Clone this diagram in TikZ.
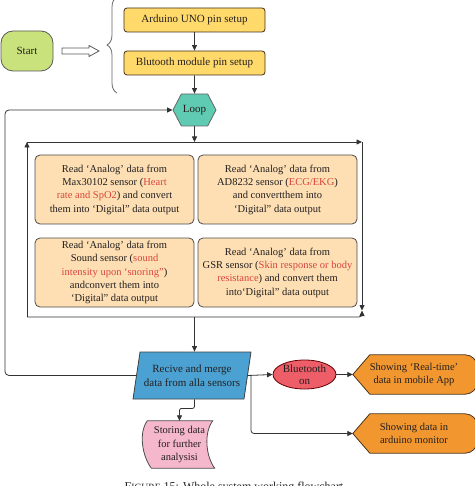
\documentclass[tikz,border=0pt]{standalone}
\usepackage{fontspec}
\setmainfont{Liberation Serif}
\usetikzlibrary{shapes.geometric,shapes.symbols,arrows.meta,decorations.pathreplacing,backgrounds}
\definecolor{txt}{HTML}{231F20}
\definecolor{linec}{HTML}{333333}
\definecolor{startfill}{HTML}{C9E27C}
\definecolor{setupfill}{HTML}{FFDA6B}
\definecolor{loopfill}{HTML}{5FCBB2}
\definecolor{sensorfill}{HTML}{FDDFB3}
\definecolor{parafill}{HTML}{4BA2D2}
\definecolor{btfill}{HTML}{EE5E68}
\definecolor{showfill}{HTML}{F2972F}
\definecolor{storefill}{HTML}{F5B7CB}
\definecolor{redtext}{HTML}{D9453D}
\newcommand{\rt}[1]{\textcolor{redtext}{#1}}
\begin{document}
\begin{tikzpicture}[x=1pt,y=-1pt,
  every node/.style={text=txt, inner sep=0pt, align=center},
  f11/.style={font=\fontsize{11}{13.5}\selectfont},
  f105/.style={font=\fontsize{10.5}{13.3}\selectfont},
  conn/.style={draw=linec, line width=0.8pt, -{Triangle[length=5.5pt,width=5pt]}},
  startbox/.style={f11, draw=black!65, line width=0.8pt, fill=startfill, rounded corners=12pt, minimum width=52pt, minimum height=40pt},
  setupbox/.style={f11, draw=black!65!brown, line width=0.8pt, fill=setupfill, rounded corners=3pt, minimum width=141pt, minimum height=24pt},
  loopbox/.style={f11, shape=signal, signal to=west and east, signal pointer angle=125, draw=black!60, line width=0.8pt, fill=loopfill, minimum width=43pt, minimum height=32pt},
  sensorbox/.style={f105, draw=black!70, line width=0.8pt, fill=sensorfill, rounded corners=5pt, minimum width=159pt, minimum height=69pt},
  parabox/.style={f11, shape=trapezium, trapezium left angle=73, trapezium right angle=107, trapezium stretches=true, draw=black!75, line width=0.8pt, fill=parafill, minimum width=118pt, minimum height=47pt},
  btbox/.style={f11, shape=ellipse, draw=black!60!red, line width=0.8pt, fill=btfill, minimum width=63pt, minimum height=29pt},
  showtext/.style={f105, minimum width=122pt, minimum height=39pt},
  showshape/.style={draw=black!60!brown, line width=0.8pt, fill=showfill},
  storeshape/.style={draw=black!70, line width=0.8pt, fill=storefill},
  hollowarrow/.style={draw=black!65, line width=0.8pt, fill=white},
  bracestyle/.style={draw=black!60, line width=0.8pt, decorate, decoration={brace, amplitude=10pt}}
]
\useasboundingbox (0,0) rectangle (474,486);

% top part
\node[startbox] (start) at (27,51) {Start};
\node[setupbox] (s1) at (194.5,20) {Arduino UNO pin setup};
\node[setupbox] (s2) at (194.5,63) {Blutooth module pin setup};
\node[loopbox] (loop) at (194.5,110) {Loop};

% hollow arrow
\coordinate (ha) at (62,51);
\draw[hollowarrow] (ha) ++(0,-3) -- ++(27,0) -- ++(0,-2.5) -- ++(10,5.5) -- ++(-10,5.5) -- ++(0,-2.5) -- ++(-27,0) -- cycle;

% brace
\coordinate (bra) at (117,93);
\coordinate (brb) at (117,-3);
\draw[bracestyle] (bra) -- (brb);

\draw[conn] (s1) -- (s2);
\draw[conn] (s2) -- (loop);

% frame
\coordinate (tl) at (27,142);
\coordinate (tr) at (362,142);
\coordinate (br) at (362,317);
\coordinate (bl) at (27,317);
\coordinate (brup) at (362,310.5);
\draw[conn] (loop.south) -- (loop.south |- tl);
\draw[conn] (tl) -- (tr);
\draw[conn] (tr) -- (brup);
\draw[conn, rounded corners=3pt] (bl) -- (br) -- (brup);
\draw[conn] (bl) -- (tl);

% sensor boxes
\node[sensorbox] (sa) at (114.5,189.5) {Read ‘Analog’ data from\\Max30102 sensor (\rt{Heart}\\\rt{rate and SpO2}) and convert\\them into ‘Digital” data output};
\node[sensorbox] (sb) at (277.5,189.5) {Read ‘Analog’ data from\\AD8232 sensor (\rt{ECG/EKG})\\and convertthem into\\‘Digital” data output};
\node[sensorbox] (sc) at (114.5,272.5) {Read ‘Analog’ data from\\Sound sensor (\rt{sound}\\\rt{intensity upon ‘snoring”})\\andconvert them into\\‘Digital” data output};
\node[sensorbox] (sd) at (277.5,272.5) {Read ‘Analog’ data from\\GSR sensor (\rt{Skin response or body}\\\rt{resistance}) and convert them\\into‘Digital” data output};

% lower part
\node[parabox] (para) at (192,375.5) {Recive and merge\\data from alla sensors};
\draw[conn] (loop.south |- bl) -- (loop.south |- para.north);

\node[btbox] (bt) at (304.5,374.5) {Bluetooth\\[-1pt]on};

\node[showtext] (show1) at (414,374.5) {Showing ‘Real-time’\\data in mobile App};
\node[showtext] (show2) at (414,433.5) {Showing data in\\arduino monitor};
\node[f105, minimum width=62pt, minimum height=47pt] (store) at (179.5,444.5) {Storing data\\for further\\analysisi};

\begin{pgfonlayer}{background}
\foreach \s in {show1,show2}{
  \draw[showshape] (\s.west) -- ([xshift=17pt]\s.north west) [rounded corners=12pt] -- ([xshift=2pt]\s.north east) -- ([xshift=2pt]\s.south east) [sharp corners] -- ([xshift=17pt]\s.south west) -- cycle;
}
\draw[storeshape] ([xshift=-1pt]store.north west) -- ([xshift=2pt]store.north east)
  .. controls +(-9,12) and +(-9,-12) .. ([xshift=4pt]store.south east)
  -- ([xshift=3pt]store.south west)
  .. controls +(-9,-12) and +(-9,12) .. ([xshift=-1pt]store.north west) -- cycle;
\end{pgfonlayer}

% connectors lower
\coordinate (feedx) at (5,0);
\draw[conn, rounded corners=4pt] (para.west) -- (para.west -| feedx) |- (loop.west);
\draw[conn] (para.east) -- (bt.west);
\draw[conn] (bt.east) -- (show1.west);
\coordinate (branchx) at (251,0);
\draw[conn, rounded corners=3pt] (branchx |- para.east) |- (show2.west);
\draw[conn, rounded corners=2pt] (loop.south |- para.south) -- ++(0,9) -| (store.north);

% caption (cut off at page bottom, as in the reference)
\node[anchor=north, font=\fontsize{12}{14}\selectfont] (cap) at (234,482) {F{\fontsize{9.6}{12}\selectfont IGURE} 15: Whole system working flowchart};
\end{tikzpicture}
\end{document}
